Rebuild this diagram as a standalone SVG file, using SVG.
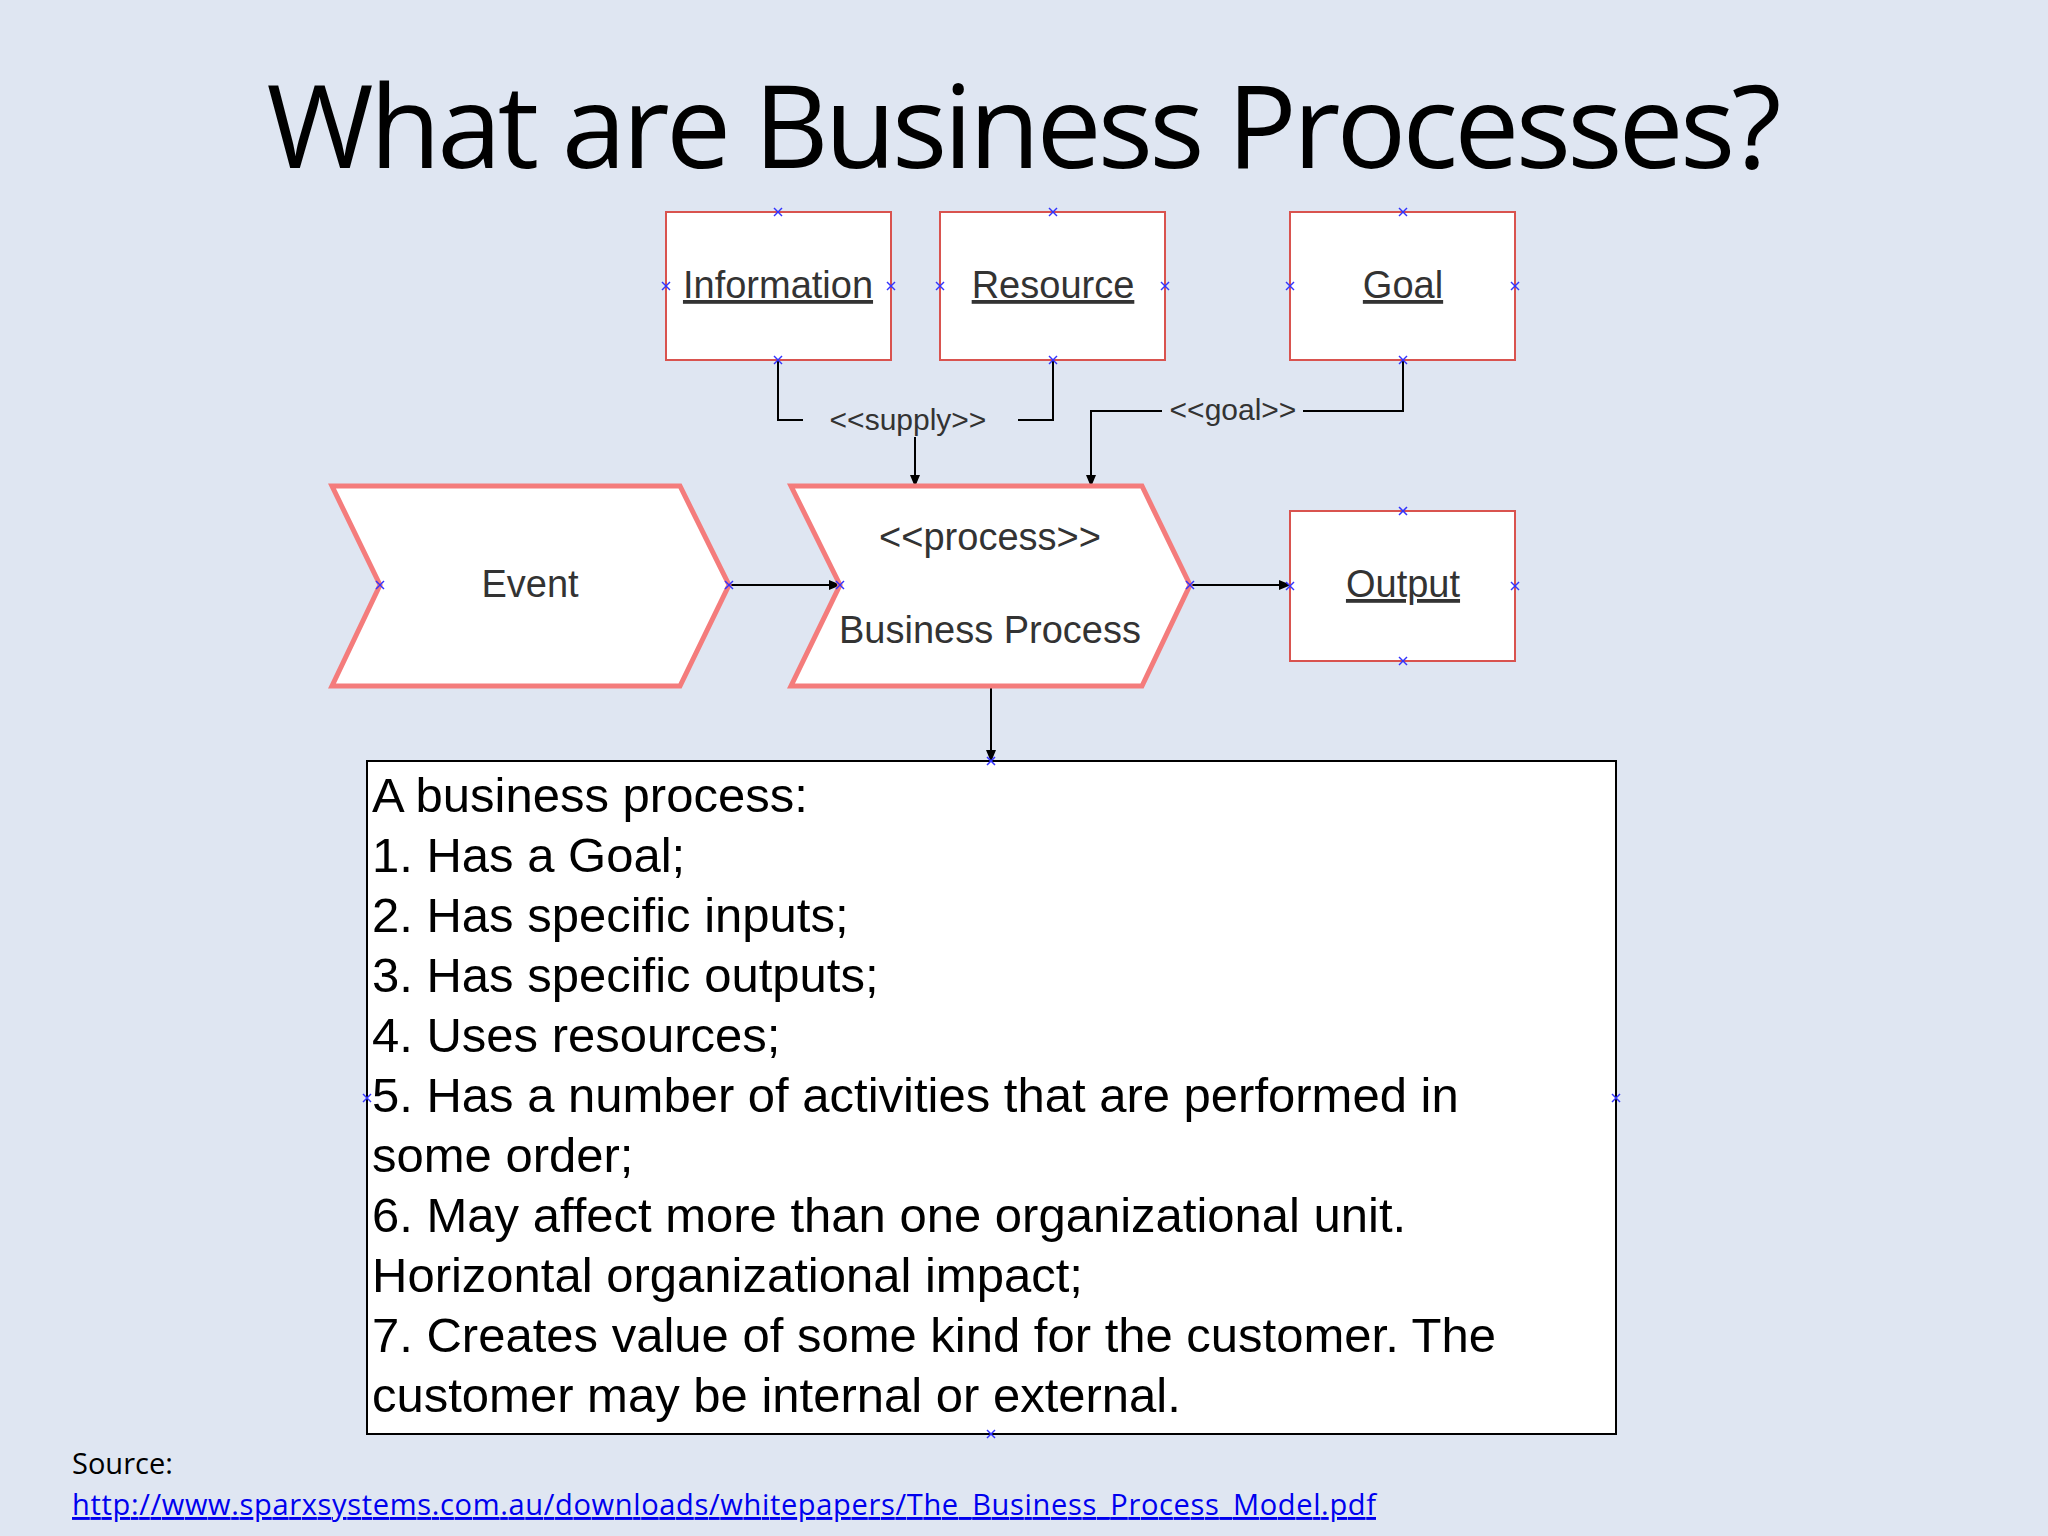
<svg xmlns="http://www.w3.org/2000/svg" width="2048" height="1536" viewBox="0 0 2048 1536">
<style>
.bx{fill:#fff;stroke:#d9534f;stroke-width:2}
.ch{fill:#fff;stroke:#f47c7c;stroke-width:5}
.lbl{font-family:"Liberation Sans",Arial,sans-serif;font-size:38px;fill:#333;text-anchor:middle}
.u{text-decoration:underline}
.ln{fill:none;stroke:#000;stroke-width:2}
.arr{fill:none;stroke:#000;stroke-width:2;marker-end:url(#ah)}
.bt{font-family:"Liberation Sans",Arial,sans-serif;font-size:49px;fill:#000}
.mk{stroke:#3333ff;stroke-width:1.5}
</style>
<defs>
<marker id="ah" markerWidth="12" markerHeight="10" refX="11" refY="5" orient="auto" markerUnits="userSpaceOnUse"><path d="M0,0 L12,5 L0,10 z" fill="#000"/></marker>
<g id="x"><line class="mk" x1="-4" y1="-4" x2="4" y2="4"/><line class="mk" x1="-4" y1="4" x2="4" y2="-4"/></g>
</defs>
<rect width="2048" height="1536" fill="#dfe6f2"/>
<text x="1024" y="168" font-family="Open Sans,sans-serif" font-size="116" text-anchor="middle" textLength="1515" fill="#000">What are Business Processes?</text>

<g id="connectors">
<path class="ln" d="M778,360 V420 H803"/>
<path class="ln" d="M1053,360 V420 H1018"/>
<path class="arr" d="M915,437 V486"/>
<path class="ln" d="M1403,360 V411 H1303"/>
<path class="arr" d="M1162,411 H1091 V486"/>
<path class="arr" d="M729,585 H840"/>
<path class="arr" d="M1190,585 H1290"/>
<path class="arr" d="M991,686 V761"/>
<text class="lbl" x="908" y="430" style="font-size:30px">&lt;&lt;supply&gt;&gt;</text>
<text class="lbl" x="1233" y="420" style="font-size:30px">&lt;&lt;goal&gt;&gt;</text>
</g>

<g id="information"><rect class="bx" x="666" y="212" width="225" height="148"/><text class="lbl u" x="778" y="298">Information</text>
<use href="#x" x="778" y="212"/><use href="#x" x="778" y="360"/><use href="#x" x="666" y="286"/><use href="#x" x="891" y="286"/></g>
<g id="resource"><rect class="bx" x="940" y="212" width="225" height="148"/><text class="lbl u" x="1053" y="298">Resource</text>
<use href="#x" x="1053" y="212"/><use href="#x" x="1053" y="360"/><use href="#x" x="940" y="286"/><use href="#x" x="1165" y="286"/></g>
<g id="goal"><rect class="bx" x="1290" y="212" width="225" height="148"/><text class="lbl u" x="1403" y="298">Goal</text>
<use href="#x" x="1403" y="212"/><use href="#x" x="1403" y="360"/><use href="#x" x="1290" y="286"/><use href="#x" x="1515" y="286"/></g>
<g id="output"><rect class="bx" x="1290" y="511" width="225" height="150"/><text class="lbl u" x="1403" y="597">Output</text>
<use href="#x" x="1403" y="511"/><use href="#x" x="1403" y="661"/><use href="#x" x="1290" y="586"/><use href="#x" x="1515" y="586"/></g>
<g id="event"><polygon class="ch" points="332,486 680,486 729,585 680,686 332,686 380,585"/><text class="lbl" x="530" y="597">Event</text>
<use href="#x" x="380" y="585"/><use href="#x" x="729" y="585"/></g>
<g id="process"><polygon class="ch" points="791,486 1142,486 1190,585 1142,686 791,686 840,585"/>
<text class="lbl" x="990" y="550">&lt;&lt;process&gt;&gt;</text><text class="lbl" x="990" y="643">Business Process</text>
<use href="#x" x="840" y="585"/><use href="#x" x="1190" y="585"/></g>

<g id="description"><rect x="367" y="761" width="1249" height="673" fill="#fff" stroke="#000" stroke-width="2"/>
<text class="bt"><tspan x="372" y="812">A business process:</tspan><tspan x="372" y="872">1. Has a Goal;</tspan><tspan x="372" y="932">2. Has specific inputs;</tspan><tspan x="372" y="992">3. Has specific outputs;</tspan><tspan x="372" y="1052">4. Uses resources;</tspan><tspan x="372" y="1112">5. Has a number of activities that are performed in</tspan><tspan x="372" y="1172">some order;</tspan><tspan x="372" y="1232">6. May affect more than one organizational unit.</tspan><tspan x="372" y="1292">Horizontal organizational impact;</tspan><tspan x="372" y="1352">7. Creates value of some kind for the customer. The</tspan><tspan x="372" y="1412">customer may be internal or external.</tspan></text>
<use href="#x" x="991" y="761"/><use href="#x" x="991" y="1434"/><use href="#x" x="367" y="1098"/><use href="#x" x="1616" y="1098"/></g>

<text x="72" y="1474" font-family="Open Sans,sans-serif" font-size="29" fill="#000">Source:</text>
<text x="72" y="1515" font-family="Open Sans,sans-serif" font-size="29" fill="#0000ee" text-decoration="underline" textLength="1304">http://www.sparxsystems.com.au/downloads/whitepapers/The_Business_Process_Model.pdf</text>
</svg>
